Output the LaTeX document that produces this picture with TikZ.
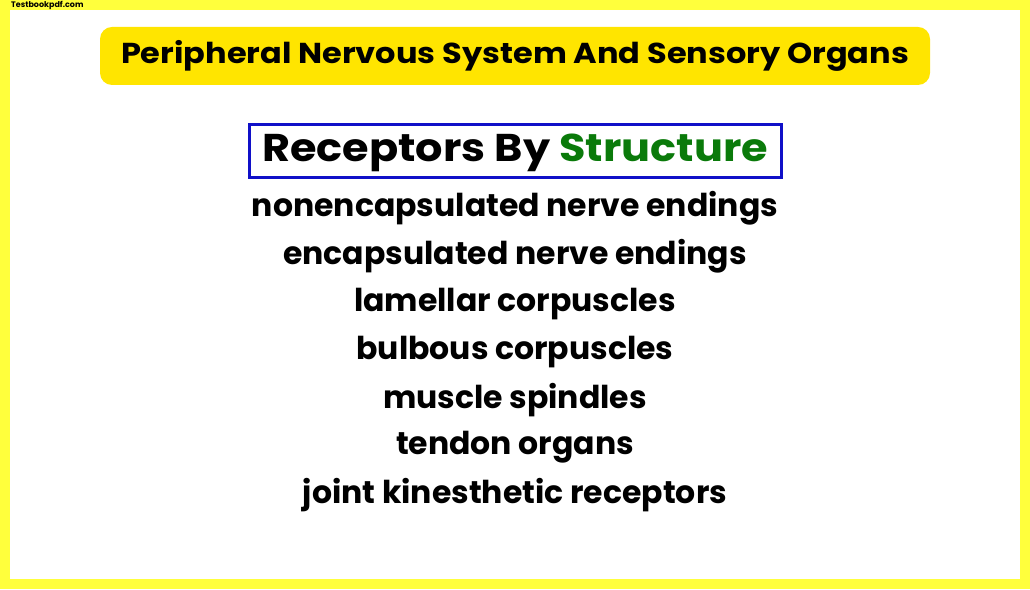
\documentclass[tikz,border=0pt]{standalone}
\usepackage{fontspec}
\setmainfont{Poppins}
\definecolor{ybg}{HTML}{FFFF3C}
\definecolor{ybox}{HTML}{FFE500}
\definecolor{bbox}{HTML}{1010C8}
\definecolor{grn}{HTML}{0A7A0A}
\begin{document}
\begin{tikzpicture}[x=1pt,y=1pt,
  item/.style={font=\fontsize{31.5}{34}\selectfont\bfseries,anchor=center,inner sep=0pt}]
\useasboundingbox (0,0) rectangle (1030,589);
\fill[ybg] (0,0) rectangle (1030,589);
\fill[white] (10,10) rectangle (1020,579);
\node[anchor=north west,font=\fontsize{8}{9}\selectfont\bfseries,inner sep=0pt] (wm) at (11,588) {Testbookpdf.com};
\node[fill=ybox,rounded corners=12pt,minimum width=830pt,minimum height=58pt,inner sep=0pt,
  font=\fontsize{32}{34}\selectfont\bfseries] (title) at (515,533) {\scalebox{1}[0.9]{Peripheral Nervous System And Sensory Organs}};
\node[draw=bbox,line width=3pt,minimum width=532pt,minimum height=53pt,inner sep=0pt] (head) at (515,438) {};
\node[font=\fontsize{43}{46}\selectfont\bfseries,inner sep=0pt] (headtxt) at (515,436) {\scalebox{1}[0.9]{Receptors By \textcolor{grn}{Structure}}};
\node[item] (l1) at (515,381) {nonencapsulated nerve endings};
\node[item] (l2) at (515,333) {encapsulated nerve endings};
\node[item] (l3) at (515,285) {lamellar corpuscles};
\node[item] (l4) at (515,237) {bulbous corpuscles};
\node[item] (l5) at (515,189) {muscle spindles};
\node[item] (l6) at (515,142) {tendon organs};
\node[item] (l7) at (515,94) {joint kinesthetic receptors};
\end{tikzpicture}
\end{document}
